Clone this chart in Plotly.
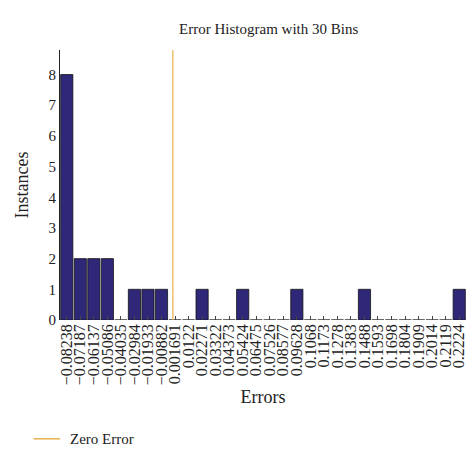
import plotly.graph_objects as go

bin_labels = ["-0.08238","-0.07187","-0.06137","-0.05086","-0.04035","-0.02984","-0.01933","-0.00882",
              "0.001691","0.0122","0.02271","0.03322","0.04373","0.05424","0.06475","0.07526","0.08577",
              "0.09628","0.1068","0.1173","0.1278","0.1383","0.1488","0.1593","0.1698","0.1804","0.1909",
              "0.2014","0.2119","0.2224"]
counts = [8,2,2,2,0,1,1,1,0,0,1,0,0,1,0,0,0,1,0,0,0,0,1,0,0,0,0,0,0,1]
zero_error = 0.0

centers = [float(s) for s in bin_labels]
w = (centers[-1] - centers[0]) / (len(centers) - 1)
tick_text = [s.replace("-", "\u2212") for s in bin_labels]

fig = go.Figure()
fig.add_trace(go.Bar(x=centers, y=counts, width=w*0.9,
                     marker=dict(color="#2f2878", line=dict(color="#111", width=0.8))))
fig.add_trace(go.Scatter(x=[zero_error, zero_error], y=[0, 8.8], mode="lines",
                         line=dict(color="#e8b04a", width=1.2)))
fig.update_layout(
    width=474, height=452, plot_bgcolor="white", paper_bgcolor="white", showlegend=False,
    font=dict(family="Liberation Serif", size=15, color="#222"),
    title=dict(text="Error Histogram with 30 Bins", x=0.55, y=0.965, font=dict(size=15)),
    margin=dict(l=52, r=16, t=42, b=140),
)
fig.add_shape(type="line", xref="paper", yref="paper", x0=-0.065, x1=0.0, y0=-0.44, y1=-0.44,
              line=dict(color="#e8b04a", width=1.5))
fig.add_annotation(text="Zero Error", showarrow=False, xref="paper", yref="paper", x=0.02, y=-0.44,
                   xanchor="left", yanchor="middle", font=dict(size=15))
fig.update_xaxes(range=[centers[0]-w/2, centers[-1]+w/2], tickvals=centers, ticktext=tick_text,
                 tickangle=-90, ticks="inside", ticklen=4, showgrid=False, zeroline=False,
                 title=dict(text="Errors", standoff=6), tickfont=dict(size=16))
fig.update_yaxes(range=[0, 8.8], dtick=1, showline=True, linecolor="#222", ticks="", showgrid=False,
                 zeroline=False, title=dict(text="Instances"), tickfont=dict(size=15))
fig.write_html("out.html")
